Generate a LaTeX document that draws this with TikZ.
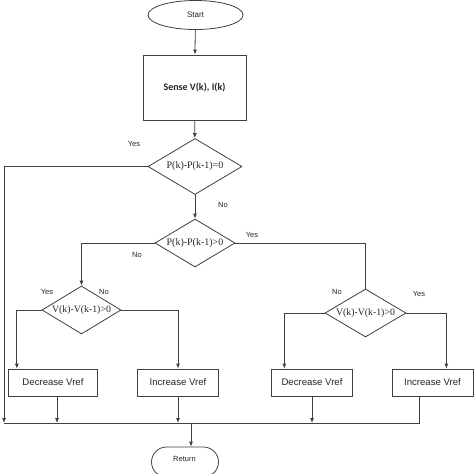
\documentclass[tikz,border=0pt]{standalone}
\usepackage{fontspec}
\setmainfont{Liberation Sans}
\newfontfamily\calfont{Carlito}
\newfontfamily\serfont{Liberation Serif}
\usetikzlibrary{shapes.geometric,shapes.misc,arrows.meta,calc}
\begin{document}
\begin{tikzpicture}[x=1pt,y=-1pt,
  ln/.style={draw=black!75,line width=0.8pt},
  arr/.style={ln,-{Latex[length=5pt,width=4pt]}},
  dia/.style={diamond,ln,inner sep=0pt,minimum width=#1},
  procbox/.style={rectangle,ln,inner sep=0pt,minimum height=27pt,font=\fontsize{9.6}{11}\selectfont,text=black!85},
  lab/.style={font=\fontsize{7.5}{9}\selectfont,text=black!85,inner sep=0pt},
  dtext/.style={font=\serfont\fontsize{10}{12}\selectfont,text=black!85,inner sep=0pt},
  vtext/.style={font=\serfont\fontsize{9.8}{12}\selectfont,text=black!85,inner sep=0pt}]
\useasboundingbox (0,0) rectangle (474,474);
\fill[white] (0,0) rectangle (474,474);
% nodes
\node[ellipse,ln,minimum width=95pt,minimum height=29pt,inner sep=0pt,font=\fontsize{8}{9}\selectfont,text=black!85] (start) at (195.5,15) {Start};
\node[rectangle,ln,minimum width=103pt,minimum height=65pt,inner sep=0pt,font=\calfont\bfseries\fontsize{10}{12}\selectfont,text=black!85] (sense) at (194.5,87.5) {Sense V(k), I(k)};
\node[dia=94pt,minimum height=56pt] (d1) at (195,166.5) {};
\node[dtext] at (d1) {P(k)-P(k-1)=0};
\node[dia=80pt,minimum height=48pt] (d2) at (195,243) {};
\node[dtext] at (d2) {P(k)-P(k-1)>0};
\node[dia=79pt,minimum height=48pt] (d3) at (81.5,310) {};
\node[vtext] at (d3) {V(k)-V(k-1)>0};
\node[dia=81pt,minimum height=48pt] (d4) at (365.5,313) {};
\node[vtext] at (d4) {V(k)-V(k-1)>0};
\node[procbox,minimum width=89.5pt] (b1) at (53,382.5) {Decrease Vref};
\node[procbox,minimum width=80.5pt] (b2) at (178,382.5) {Increase Vref};
\node[procbox,minimum width=80.5pt] (b3) at (312,382.5) {Decrease Vref};
\node[procbox,minimum width=81pt] (b4) at (432.5,382.5) {Increase Vref};
\node[rounded rectangle,ln,minimum width=67pt,minimum height=30pt,inner sep=0pt] (ret) at (185,462) {};
\node[lab] at (184.5,459) {Return};
% coordinates
\coordinate (L) at (4,423);
\coordinate (R) at (419,423);
\coordinate (J) at (191,423);
\coordinate (b1o) at ($(b1.south)+(4,0)$);
\coordinate (b1i) at ($(b1.north west)+(9,0)$);
\coordinate (b3i) at ($(b3.north west)+(13,0)$);
\coordinate (b4i) at ($(b4.north east)+(-27,0)$);
% connectors
\draw[arr] (start) -- (sense);
\draw[arr] (sense) -- (d1);
\draw[arr] (d1.south) -- (d2.north);
\draw[arr] (d1.west) -| (L);
\draw[arr] (d2.west) -| (d3.north);
\draw[ln] (d2.east) -| (d4.north);
\draw[arr] (d3.west) -| (b1i);
\draw[arr] (d3.east) -| (b2.north);
\draw[arr] (d4.west) -| (b3i);
\draw[arr] (d4.east) -| (b4i);
\draw[arr] (b1o) -- (b1o |- L);
\draw[arr] (b2.south) -- (b2.south |- L);
\draw[arr] (b3.south) -- (b3.south |- L);
\draw[ln] (R |- b4.south) -- (R) -- (L);
\draw[arr] (J) -- (J |- ret.north);
% labels
\node[lab] at (134,144) {Yes};
\node[lab] at (223,205) {No};
\node[lab] at (252,235) {Yes};
\node[lab] at (137,255) {No};
\node[lab] at (47,292) {Yes};
\node[lab] at (104,292) {No};
\node[lab] at (337,292) {No};
\node[lab] at (419,294) {Yes};
\end{tikzpicture}
\end{document}
